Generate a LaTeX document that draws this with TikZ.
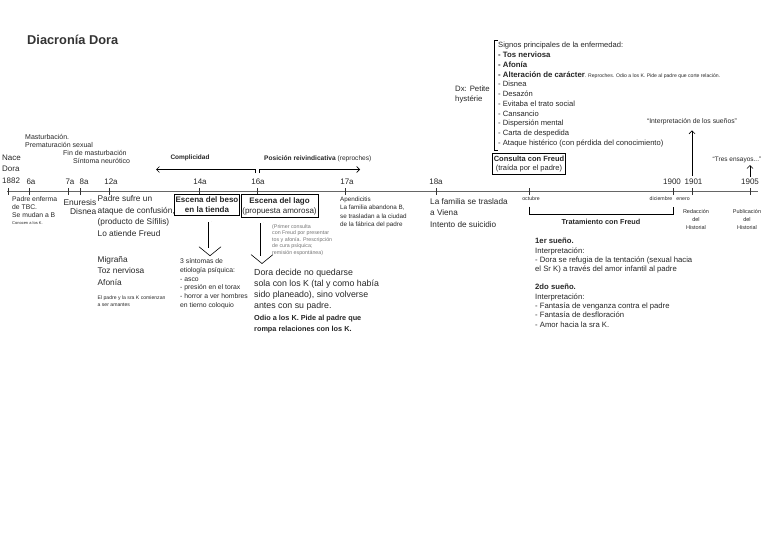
\documentclass[tikz,border=0pt]{standalone}
\usepackage{fontspec}
\setmainfont{Liberation Sans}
\usetikzlibrary{arrows.meta, calc}

\newcommand{\fsz}[2]{\fontsize{#1}{#2}\selectfont}

\tikzset{
  txt/.style={inner sep=0pt, anchor=north west, align=left, text=black!85},
  yr/.style={inner sep=0pt, anchor=base, font=\fsz{8}{9}, text=black!85},
  evbox/.style={draw, line width=0.8pt, inner xsep=1.4pt, inner ysep=2.4pt, align=center, text=black!85},
  dbl/.style={double, double distance=3pt, line width=0.6pt},
  chev/.style={line width=0.6pt},
  barb/.style={-{Straight Barb[length=3pt,width=6pt]}, line width=0.6pt},
}

\begin{document}
\begin{tikzpicture}[x=1pt, y=-1pt]
  \useasboundingbox (0,0) rectangle (768,543);

  % Title
  \node[txt, font=\bfseries\fsz{12.8}{14}, text=black!80] (title) at (27,34.5) {Diacronía Dora};

  % Draw the axis
  \draw[black!60, line width=0.8pt] (7,191.5) -- (758,191.5);
  \foreach \x/\n in {8/y1882, 29/y6, 68/y7, 80/y8, 109/y12, 199/y14, 257/y16,
                     345/y17, 436/y18, 529/oct, 673/dic, 692/ene, 750/y1905} {
    \coordinate (\n) at (\x,191.5);
    \draw[black!80, line width=0.7pt] (\x,188) -- (\x,195);
  }

  % Labels
  \node[txt, font=\fsz{8}{11.2}] (nace) at (2,155) {Nace\\Dora\\1882};
  \node[yr] (l6) at (31,184) {6a};
  \node[yr] (l7) at (70,184) {7a};
  \node[yr] (l8) at (84,184) {8a};
  \node[yr] (l12) at (111,184) {12a};
  \node[yr] (l14) at (200,184) {14a};
  \node[yr] (l16) at (258,184) {16a};
  \node[yr] (l17) at (347,184) {17a};
  \node[yr] (l18) at (436,184) {18a};
  \node[yr] (l1900) at (672,184) {1900};
  \node[yr] (l1901) at (693.5,184) {1901};
  \node[yr] (l1905) at (750,184) {1905};

  \node[yr, font=\fsz{5.2}{6}] (loct) at (531,200) {octubre};
  \node[yr, font=\fsz{5.2}{6}] (ldic) at (661,200) {diciembre};
  \node[yr, font=\fsz{5.2}{6}] (lene) at (683,200) {enero};

  % Above the axis
  \node[txt, font=\fsz{7}{8}] (mast) at (25,134.4) {Masturbación.\\Prematuración sexual};
  \node[txt, font=\fsz{7}{7.3}] (finm) at (63,150.4) {Fin de masturbación\\\hspace*{10pt}Síntoma neurótico};

  \coordinate (cL) at (156,169.5);
  \coordinate (cM) at (255,169.5);
  \coordinate (pM) at (259,169.5);
  \coordinate (pR) at (360,169.5);
  \draw[barb] ($(cM)+(0,3.5)$) -- (cM) -- (cL);
  \draw[barb] ($(pM)+(0,3.5)$) -- (pM) -- (pR);
  \node[inner sep=0pt, font=\bfseries\fsz{6.5}{7}, text=black!85] (compl) at (190,158) {Complicidad};
  \node[txt, font=\fsz{6.6}{7}] (posic) at (264,155.6) {\textbf{Posición reivindicativa} (reproches)};

  \node[evbox, font=\fsz{7.5}{9.5}] (consulta) at (529,164) {\textbf{Consulta con Freud}\\(traída por el padre)};

  \node[txt, font=\fsz{7.8}{10}] (dx) at (455,86) {Dx: Petite\\hystérie};
  \node[txt, font=\fsz{7.6}{9.75}] (signos) at (498,42.2) {Signos principales de la enfermedad:\\
    {\bfseries\fsz{7.8}{9.75}- Tos nerviosa}\\
    {\bfseries\fsz{7.8}{9.75}- Afonía}\\
    {\bfseries\fsz{7.8}{9.75}- Alteración de carácter}{\fsz{5.1}{9.75}. Reproches. Odio a los K. Pide al padre que corte relación.}\\
    - Disnea\\
    - Desazón\\
    - Evitaba el trato social\\
    - Cansancio\\
    - Dispersión mental\\
    - Carta de despedida\\
    - Ataque histérico (con pérdida del conocimiento)};
  \draw[line width=0.6pt] ([yshift=2pt]signos.north west) -- ++(-4,0) |- ([yshift=-3pt]signos.south west);

  \node[inner sep=0pt, font=\fsz{6.8}{8}, text=black!85] (interp) at (692,122) {“Interpretación de los sueños”};
  \draw[barb] ($(ene)+(0,-15.5)$) -- ([yshift=-5pt]interp.south -| ene);
  \node[inner sep=0pt, font=\fsz{6.5}{8}, text=black!85] (tres) at (737,160) {“Tres ensayos...”};
  \draw[barb] ($(y1905)+(0,-14.5)$) -- ([yshift=-2pt]tres.south -| y1905);

  % Below the axis
  \node[txt, font=\fsz{6.8}{8}] (tbc) at (12,196.5) {Padre enferma\\de TBC.\\Se mudan a B};
  \node[txt, font=\fsz{4}{5}] (conocen) at (12,221.5) {Conocen a los K.};
  \node[inner sep=0pt, anchor=north east, align=right, font=\fsz{8.4}{9.5}, text=black!85] (enur) at (96.5,199) {Enuresis\\Disnea};
  \node[txt, font=\fsz{8.3}{11.5}] (padre12) at (97.5,195.5) {Padre sufre un\\ataque de confusión,\\(producto de Sífilis)\\Lo atiende Freud};
  \node[txt, font=\fsz{8.3}{11.5}] (migr) at (97.5,256) {Migraña\\Toz nerviosa\\Afonía};
  \node[txt, font=\fsz{5.1}{7}] (amantes) at (97.5,296) {El padre y la sra K comienzan\\a ser amantes};

  \node[evbox, font=\bfseries\fsz{8}{10}] (beso) at (207,205) {Escena del beso\\en la tienda};
  \node[evbox, font=\fsz{8}{10}] (lago) at (279.5,206) {\textbf{Escena del lago}\\(propuesta amorosa)};

  \draw[dbl] ([xshift=3pt,yshift=-6pt]beso.south) -- ++(0,26) coordinate (besoEnd);
  \draw[chev] (besoEnd) ++(-11,-1) -- ++(11,9) -- ++(11,-9);
  \draw[dbl] ([xshift=-17.5pt,yshift=-5pt]lago.south) -- ++(0,33) coordinate (lagoEnd);
  \draw[chev] (lagoEnd) ++(-11,-1) -- ++(11,9) -- ++(11,-9);

  \node[txt, font=\fsz{6.8}{8.7}] (sint) at (180,258.5) {3 síntomas de\\etiología psíquica:\\- asco\\- presión en el torax\\- horror a ver hombres\\en tierno coloquio};
  \node[txt, font=\fsz{5.3}{6.5}, text=black!55] (primer) at (272,224) {(Primer consulta\\con Freud por presentar\\tos y afonía. Prescripción\\de cura psíquica;\\remisión espontánea)};
  \node[txt, font=\fsz{8.8}{11.2}] (dora) at (254,268.8) {Dora decide no quedarse\\sola con los K (tal y como había\\sido planeado), sino volverse\\antes con su padre.\\
    {\bfseries\fsz{7.3}{11.2}Odio a los K. Pide al padre que}\\{\bfseries\fsz{7.3}{11.2}rompa relaciones con los K.}};

  \node[txt, font=\fsz{6.3}{8.3}] (apend) at (340,196.7) {Apendicitis\\La familia abandona B,\\se trasladan a la ciudad\\de la fábrica del padre};
  \node[txt, font=\fsz{8.2}{11.5}] (viena) at (430,198) {La familia se traslada\\a Viena\\Intento de suicidio};

  \draw[line width=0.7pt] ($(oct)+(0,15)$) -- ++(0,7.5) -| ($(dic)+(0,15)$);
  \node[inner sep=0pt, font=\bfseries\fsz{7.3}{8}, text=black!85] (trat) at ($(oct)!.5!(dic)+(0,30.5)$) {Tratamiento con Freud};

  \node[inner sep=0pt, anchor=north, align=center, font=\fsz{5.5}{8}, text=black!85] (redac) at (696,209) {Redacción\\del\\Historial};
  \node[inner sep=0pt, anchor=north, align=center, font=\fsz{5.5}{8}, text=black!85] (public) at (747,209) {Publicación\\del\\Historial};

  \node[txt, font=\fsz{7.7}{9.3}] (sueno1) at (535,238.2) {\textbf{1er sueño.}\\Interpretación:\\- Dora se refugia de la tentación (sexual hacia\\el Sr K) a través del amor infantil al padre};
  \node[txt, font=\fsz{7.7}{9.3}] (sueno2) at (535,284.2) {\textbf{2do sueño.}\\Interpretación:\\- Fantasía de venganza contra el padre\\- Fantasía de desfloración\\- Amor hacia la sra K.};
\end{tikzpicture}
\end{document}
